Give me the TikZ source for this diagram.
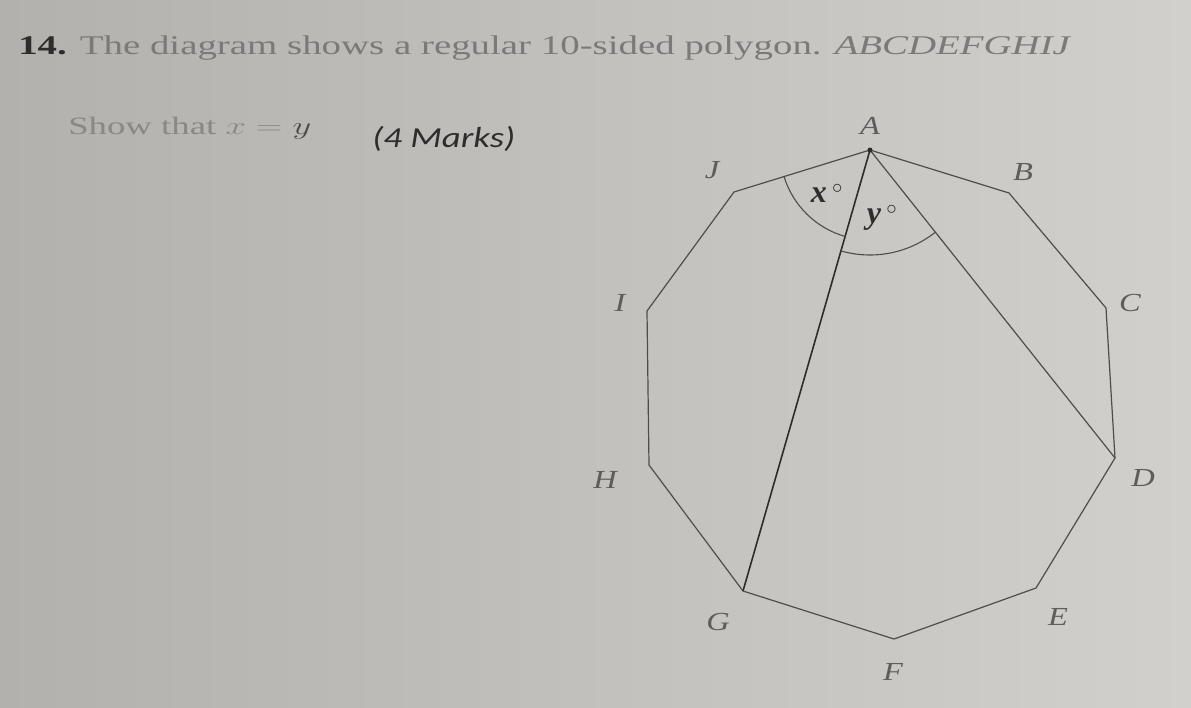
\documentclass[tikz,border=0pt]{standalone}
\usepackage{fontspec}
\setmainfont{Liberation Serif}
\newfontfamily\calib{Carlito}
\definecolor{paperL}{HTML}{B3B1AD}
\definecolor{paperR}{HTML}{D2D0CD}
\definecolor{inkline}{HTML}{4E4D4B}
\definecolor{inkdark}{HTML}{2E2D2C}
\definecolor{inkgray}{HTML}{7C7A78}
\definecolor{inkfaint}{HTML}{8A8886}
\definecolor{labgray}{HTML}{5E5D5B}
\begin{document}
\begin{tikzpicture}[x=1pt,y=-1pt,
  edge/.style={draw=inkline,line width=1.2pt,line join=round},
  chord/.style={draw=inkdark,line width=1.6pt},
  anglearc/.style={draw=inkline,line width=1.1pt},
  vlab/.style={font=\fontsize{26}{26}\selectfont\itshape,text=labgray,xscale=1.25,transform shape,inner sep=0pt},
  hand/.style={font=\fontsize{32}{32}\selectfont\bfseries\itshape,text=inkdark,inner sep=0pt},
  txt/.style={anchor=base west,inner sep=0pt,transform shape}]
\fill[left color=paperL,right color=paperR] (0,0) rectangle (1191,707);
\useasboundingbox (0,0) rectangle (1191,707);
% vertices
\coordinate (A) at (870,150);
\coordinate (B) at (1009,193);
\coordinate (C) at (1106,308);
\coordinate (D) at (1115,458);
\coordinate (E) at (1036,588);
\coordinate (F) at (894,639);
\coordinate (G) at (743,591);
\coordinate (H) at (649,465);
\coordinate (I) at (647,311);
\coordinate (J) at (734,192);
\draw[edge] (A)--(B)--(C)--(D)--(E)--(F)--(G)--(H)--(I)--(J)--cycle;
\draw[chord] (A)--(G);
\draw[edge] (A)--(D);
\fill[inkdark] (A) circle[radius=2.5pt];
% angle arcs
\draw[anglearc] ([shift={(197.16:90pt)}]A) arc[start angle=197.16,end angle=253.94,radius=90pt];
\draw[anglearc] ([shift={(253.94:105pt)}]A) arc[start angle=253.94,end angle=308.5,radius=105pt];
\node[hand] (xl) at (827,193) {x\,$^{\circ}$};
\node[hand] (yl) at (882,218) {y\,$^{\circ}$};
% vertex labels
\node[vlab] (lA) at (870,126) {A};
\node[vlab] (lB) at (1023,172) {B};
\node[vlab] (lC) at (1130,303) {C};
\node[vlab] (lD) at (1143,478) {D};
\node[vlab] (lE) at (1058,617) {E};
\node[vlab] (lF) at (893,672) {F};
\node[vlab] (lG) at (718,622) {G};
\node[vlab] (lH) at (605,480) {H};
\node[vlab] (lI) at (620,303) {I};
\node[vlab] (lJ) at (712,170) {J};
% text
\node[txt,xscale=1.44,font=\fontsize{27}{27}\selectfont,text=inkgray] (title) at (18,54)
  {\textcolor{inkdark}{\textbf{14.}} The diagram shows a regular 10-sided polygon. \textit{ABCDEFGHIJ}};
\node[txt,xscale=1.47,font=\fontsize{25}{25}\selectfont,text=inkfaint] (show) at (68,134)
  {Show that $x=\textcolor{inkline}{y}$};
\node[txt,xscale=1.27,font=\calib\fontsize{29}{29}\selectfont\itshape,text=inkdark] (marks) at (372,147)
  {(4 Marks)};
\end{tikzpicture}
\end{document}
